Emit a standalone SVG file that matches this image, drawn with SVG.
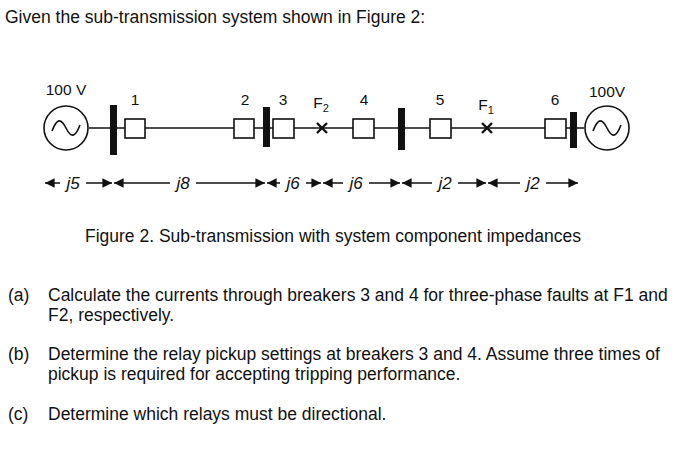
<svg xmlns="http://www.w3.org/2000/svg" width="680" height="469" viewBox="0 0 680 469">
<style>
text{font-family:"Liberation Sans",Arial,sans-serif;fill:#111}
.t{font-size:17.5px}
.l{font-size:15.5px}
.z{font-size:17px;font-style:italic}
.w{stroke:#111;stroke-width:1.6;fill:none}
.b{fill:#fff;stroke:#111;stroke-width:1.6}
.bus{fill:#111}
</style>
<defs>
<marker id="a" viewBox="0 0 10 10" refX="10" refY="5" markerWidth="6" markerHeight="6" orient="auto-start-reverse"><path d="M0,0L10,5L0,10z" fill="#111"/></marker>
</defs>
<rect width="680" height="469" fill="#fff"/>
<text class="t" x="5" y="23">Given the sub-transmission system shown in Figure 2:</text>
<g id="connectors">
<line class="w" x1="89" y1="128" x2="584" y2="128"/>
<g stroke="#111" stroke-width="2.4"><path d="M317,123l10,10M327,123l-10,10M482,123l10,10M492,123l-10,10"/></g>
<g class="w" marker-start="url(#a)" marker-end="url(#a)">
<line x1="45" y1="183" x2="112" y2="183"/>
<line x1="114" y1="183" x2="265" y2="183"/>
<line x1="267" y1="183" x2="321" y2="183"/>
<line x1="323" y1="183" x2="400" y2="183"/>
<line x1="402" y1="183" x2="486" y2="183"/>
<line x1="488" y1="183" x2="578" y2="183"/>
</g>
</g>
<g fill="#fff">
<rect x="60" y="175" width="26" height="16"/><rect x="170" y="175" width="26" height="16"/><rect x="280" y="175" width="26" height="16"/><rect x="343" y="175" width="26" height="16"/><rect x="432" y="175" width="26" height="16"/><rect x="520" y="175" width="26" height="16"/>
</g>
<g class="z" text-anchor="middle">
<text x="73" y="189">j5</text><text x="183" y="189">j8</text><text x="293" y="189">j6</text><text x="356" y="189">j6</text><text x="445" y="189">j2</text><text x="533" y="189">j2</text>
</g>
<g id="src1"><circle class="b" cx="66" cy="128" r="22"/><path class="w" d="M52,131c5,-13 9,-13 14,-3s9,10 14,-3"/><text class="l" x="66" y="95" text-anchor="middle">100 V</text></g>
<g id="src2"><circle class="b" cx="607" cy="128" r="22"/><path class="w" d="M593,131c5,-13 9,-13 14,-3s9,10 14,-3"/><text class="l" x="607" y="97" text-anchor="middle">100V</text></g>
<g id="buses"><rect class="bus" x="110" y="105" width="7" height="50"/><rect class="bus" x="263" y="107" width="7" height="40"/><rect class="bus" x="398" y="108" width="7" height="42"/><rect class="bus" x="570" y="112" width="7" height="36"/></g>
<g id="breakers">
<rect class="b" x="125" y="119" width="20" height="19"/><rect class="b" x="234" y="119" width="20" height="19"/><rect class="b" x="273" y="119" width="21" height="19"/><rect class="b" x="353" y="119" width="21" height="19"/><rect class="b" x="430" y="119" width="21" height="19"/><rect class="b" x="545" y="119" width="21" height="19"/>
</g>
<g class="l" text-anchor="middle">
<text x="135" y="105">1</text><text x="245" y="105">2</text><text x="283" y="105">3</text><text x="364" y="105">4</text><text x="440" y="105">5</text><text x="555" y="105">6</text>
<text x="321" y="108">F<tspan font-size="11" dy="4">2</tspan></text>
<text x="486" y="110">F<tspan font-size="11" dy="4">1</tspan></text>
</g>
<text class="t" x="333" y="242" text-anchor="middle">Figure 2. Sub-transmission with system component impedances</text>
<g class="t">
<text x="8" y="301">(a)</text><text x="48" y="301">Calculate the currents through breakers 3 and 4 for three-phase faults at F1 and</text><text x="48" y="321">F2, respectively.</text>
<text x="8" y="360">(b)</text><text x="48" y="360">Determine the relay pickup settings at breakers 3 and 4. Assume three times of</text><text x="48" y="380">pickup is required for accepting tripping performance.</text>
<text x="8" y="420">(c)</text><text x="48" y="420">Determine which relays must be directional.</text>
</g>
</svg>
